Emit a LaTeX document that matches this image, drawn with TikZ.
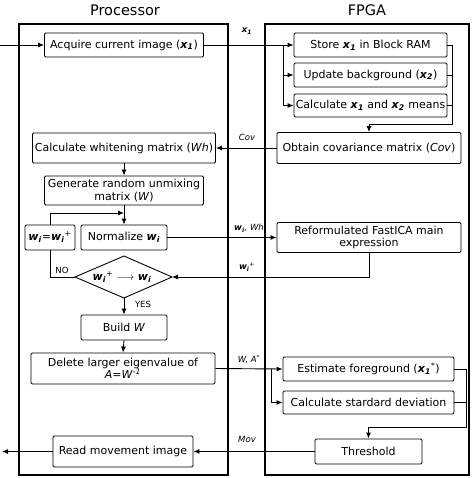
\documentclass[tikz,border=0pt]{standalone}
\usepackage{fontspec}
\setmainfont{DejaVu Sans}
\usetikzlibrary{arrows.meta}
\newcommand{\vb}[1]{\textbf{\textit{#1}}}
\newcommand{\wi}{\vb{w}\textsubscript{\vb{i}}}
\begin{document}
\begin{tikzpicture}[x=1pt,y=-1pt,
  panel/.style={draw,line width=1.4pt},
  blk/.style={draw,line width=0.9pt,rounded corners=1.2pt,inner sep=1pt,align=center,font=\fontsize{11}{12.5}\selectfont},
  lbl/.style={font=\fontsize{8.5}{10}\selectfont\itshape,inner sep=0pt},
  ttl/.style={font=\fontsize{14.5}{16}\selectfont},
  conn/.style={line width=0.9pt},
  arr/.style={conn,-{Latex[length=6pt,width=5pt]}}]
\useasboundingbox (0,0) rectangle (474,478);
% panels
\draw[panel] (19,24) rectangle (228,475);
\draw[panel] (265,24) rectangle (469,475);
\node[ttl] (tp) at (125,10) {Processor};
\node[ttl] (tf) at (367,10) {FPGA};
% processor blocks
\node[blk,minimum width=159pt,minimum height=24pt] (acq) at (124,45) {Acquire current image (\vb{x}\textsubscript{\vb{1}})};
\node[blk,minimum width=183pt,minimum height=30pt] (whit) at (124,148) {Calculate whitening matrix (\textit{Wh})};
\node[blk,minimum width=159pt,minimum height=29pt] (gen) at (124,190.5) {Generate random unmixing\\matrix (\textit{W})};
\node[blk,minimum width=50pt,minimum height=25pt] (wbox) at (50,237.5) {\wi=\wi\textsuperscript{+}};
\node[blk,minimum width=86pt,minimum height=25pt] (norm) at (124,237.5) {Normalize \wi};
\coordinate (dl) at (75,277);
\coordinate (dr) at (172,277);
\coordinate (dt) at (124,256);
\coordinate (db) at (124,298);
\draw[conn] (dl) -- (dt) -- (dr) -- (db) -- cycle;
\node[font=\fontsize{11}{12.5}\selectfont] (dtext) at (122,277) {\wi\textsuperscript{+}\,\,$\longrightarrow$\,\,\wi};
\node[blk,minimum width=86pt,minimum height=25pt] (build) at (124,327.5) {Build \textit{W}};
\node[blk,minimum width=184pt,minimum height=31pt] (del) at (123,368.5) {Delete larger eigenvalue of\\\textit{A}=\textit{W}\textsuperscript{\textit{-1}}};
\node[blk,minimum width=140pt,minimum height=31pt] (read) at (123,451.5) {Read movement image};
% fpga blocks
\node[blk,minimum width=153pt,minimum height=24pt] (store) at (370.5,45) {Store \vb{x}\textsubscript{\vb{1}} in Block RAM};
\node[blk,minimum width=153pt,minimum height=24pt] (upd) at (370.5,75) {Update background (\vb{x}\textsubscript{\vb{2}})};
\node[blk,minimum width=153pt,minimum height=23pt] (calc) at (370.5,105.5) {Calculate \vb{x}\textsubscript{\vb{1}} and \vb{x}\textsubscript{\vb{2}} means};
\node[blk,minimum width=184pt,minimum height=31pt] (obt) at (369,148) {Obtain covariance matrix (\textit{Cov})};
\node[blk,minimum width=184pt,minimum height=30pt] (ref) at (369,237.5) {Reformulated FastICA main\\expression};
\node[blk,minimum width=171pt,minimum height=24pt] (est) at (368.5,369) {Estimate foreground (\vb{x}\textsubscript{\vb{1}}\textsuperscript{*})};
\node[blk,minimum width=171pt,minimum height=23pt] (std) at (368.5,402.5) {Calculate stardard deviation};
\node[blk,minimum width=107pt,minimum height=25pt] (thr) at (368.5,451.5) {Threshold};
% connectors
\coordinate (in) at (0,45);
\coordinate (out) at (2,451.5);
\coordinate (br1) at (283,45);
\coordinate (rb1) at (452,124);
\coordinate (loopj) at (124,213);
\coordinate (br2) at (271,369);
\coordinate (rb2) at (466,427);
\draw[arr] (in) -- (acq.west);
\draw[arr] (acq.east) -- (store.west);
\draw[arr] (br1) |- (upd.west);
\draw[arr] (br1) |- (calc.west);
\draw[arr] (store.east) -| (rb1) -| (obt.north);
\draw[conn] (upd.east) -- (upd.east -| rb1);
\draw[conn] (calc.east) -- (calc.east -| rb1);
\draw[arr] (obt.west) -- (whit.east);
\draw[arr] (whit.south) -- (gen.north);
\draw[arr] (gen.south) -- (norm.north);
\draw[arr] (wbox.north) |- (loopj);
\draw[arr] (norm.east) -- (ref.west);
\draw[arr] (ref.south) |- (dr);
\draw[conn] (dl) -| (wbox.south);
\draw[arr] (db) -- (build.north);
\draw[arr] (build.south) -- (del.north);
\draw[arr] (del.east) -- (est.west);
\draw[arr] (br2) |- (std.west);
\draw[arr] (est.east) -| (rb2) -| (thr.north);
\draw[conn] (std.east) -- (std.east -| rb2);
\draw[arr] (thr.west) -- (read.east);
\draw[arr] (read.west) -- (out);
% labels
\node[lbl] (lx1) at (247,31) {\vb{x}\textsubscript{\vb{1}}};
\node[lbl] (lcov) at (247,137) {Cov};
\node[lbl] (lwwh) at (249,228) {\wi, Wh};
\node[lbl] (lwp) at (247,267) {\wi\textsuperscript{+}};
\node[lbl,font=\fontsize{8.5}{10}\selectfont] (lno) at (62,270) {NO};
\node[lbl,font=\fontsize{8.5}{10}\selectfont] (lyes) at (143,304) {YES};
\node[lbl] (lwa) at (249,359) {W, A\textsuperscript{*}};
\node[lbl] (lmov) at (247,439) {Mov};
\end{tikzpicture}
\end{document}
